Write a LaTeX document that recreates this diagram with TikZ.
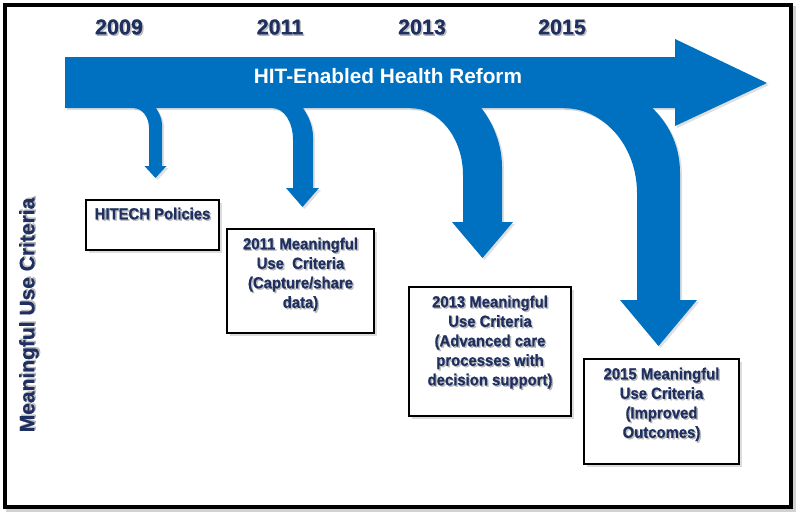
\documentclass[tikz,border=0pt]{standalone}
\usepackage{fontspec}
\setmainfont{Liberation Sans}
\newfontfamily\boxfont{Liberation Sans}[FakeStretch=0.93,FakeBold=0.8]
\newfontfamily\heavyfont{Liberation Sans}[FakeBold=0.8]
\definecolor{arrowblue}{RGB}{0,112,192}
\definecolor{navy}{RGB}{31,48,96}
\newcommand\shadowtxt[4]{%
  \node[#3,text=black!45,opacity=0.55,xshift=1.4pt,yshift=-1.4pt] at (#2) {#4};
  \node[#3] (#1) at (#2) {#4};}
\begin{document}
\begin{tikzpicture}[x=1pt,y=-1pt,
  yeartxt/.style={font=\heavyfont\fontsize{21.5}{24}\selectfont\bfseries, text=navy, inner sep=0pt},
  boxtxt/.style={font=\boxfont\fontsize{16}{19.5}\selectfont\bfseries, text=navy, inner sep=0pt, align=center, anchor=north},
  sidetxt/.style={font=\heavyfont\fontsize{21}{24}\selectfont\bfseries, text=navy, inner sep=0pt, rotate=90},
  critbox/.style={draw=black, line width=1.2pt, fill=white},
  boxshadow/.style={fill=black!30, opacity=0.45},
  arrowfill/.style={fill=arrowblue},
  arrowshadow/.style={fill=black!35, opacity=0.35}]
\useasboundingbox (0,0) rectangle (800,517);
% outer frame
\draw[black!35, opacity=0.5, line width=3.5pt] (8,8) rectangle (794,510);
\draw[black, line width=3.5pt, fill=white] (5,5) rectangle (791,507);

% arrow shapes (shadow first, then blue)
\foreach \sty/\dx in {arrowshadow/2, arrowfill/0}{
  \begin{scope}[shift={(\dx,\dx)}]
  % main arrow
  \path[\sty] (65,57) -- (675,57) -- (675,39) -- (767,83) -- (675,126) -- (675,108) -- (65,108) -- cycle;
  % branch 2009
  \path[\sty] (133,104) -- (133,108) .. controls (142,108) and (149,117) .. (149,128)
     -- (149,166) -- (144.5,166) -- (155.5,178) -- (166.5,166) -- (162,166) -- (162,124)
     .. controls (162,117) and (158,111) .. (153,104) -- cycle;
  % branch 2011
  \path[\sty] (272,104) -- (272,108) .. controls (284,108) and (293,122) .. (293,140)
     -- (293,188) -- (286,188) -- (302.5,207) -- (319,188) -- (313,188) -- (313,137)
     .. controls (313,124) and (307,113) .. (300,104) -- cycle;
  % branch 2013
  \path[\sty] (410,104) -- (410,108) .. controls (439,108) and (463,138) .. (463,175)
     -- (463,222) -- (452,222) -- (482.5,258) -- (513,222) -- (502,222) -- (502,167)
     .. controls (502,140) and (490,118) .. (478,104) -- cycle;
  % branch 2015
  \path[\sty] (563,104) -- (563,108) .. controls (604,108) and (637,146) .. (637,193)
     -- (637,300) -- (620,300) -- (658.5,346) -- (697,300) -- (680,300) -- (680,173)
     .. controls (680,140) and (664,118) .. (648,104) -- cycle;
  \end{scope}
}

% title
\node[font=\fontsize{20.8}{24}\selectfont\bfseries, text=white, inner sep=0pt] (title) at (388,76) {HIT-Enabled Health Reform};

% years
\shadowtxt{y2009}{119,27}{yeartxt}{2009}
\shadowtxt{y2011}{280,27}{yeartxt}{2011}
\shadowtxt{y2013}{422,27}{yeartxt}{2013}
\shadowtxt{y2015}{562,27}{yeartxt}{2015}

% side label
\shadowtxt{side}{29,315}{sidetxt}{Meaningful Use Criteria}

% boxes
\fill[boxshadow] (89,203) rectangle (222,253);
\draw[critbox] (86,200) rectangle (219,250);
\fill[boxshadow] (230,232) rectangle (377,336);
\draw[critbox] (227,229) rectangle (374,333);
\fill[boxshadow] (412,290) rectangle (574,419);
\draw[critbox] (409,287) rectangle (571,416);
\fill[boxshadow] (587,362) rectangle (742,467);
\draw[critbox] (584,359) rectangle (739,464);

\shadowtxt{b1}{152.5,207.5}{boxtxt}{HITECH Policies}
\shadowtxt{b2}{300.5,237.5}{boxtxt}{2011 Meaningful\\Use\ \ Criteria\\(Capture/share\\data)}
\shadowtxt{b3}{490,295.5}{boxtxt}{2013 Meaningful\\Use Criteria\\(Advanced care\\processes with\\decision support)}
\shadowtxt{b4}{661.5,367.5}{boxtxt}{2015 Meaningful\\Use Criteria\\(Improved\\Outcomes)}
\end{tikzpicture}
\end{document}
